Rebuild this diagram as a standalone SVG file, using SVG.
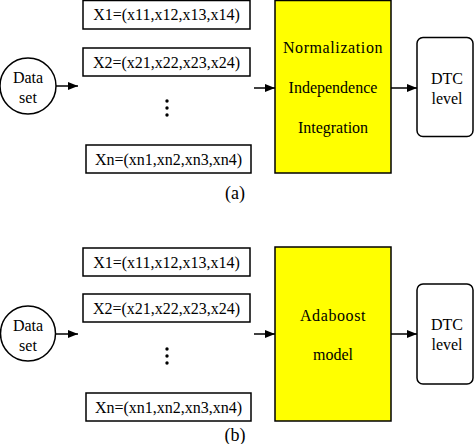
<svg xmlns="http://www.w3.org/2000/svg" width="474" height="444" viewBox="0 0 474 444">
<style>
text{font-family:"Liberation Serif","Times New Roman",serif;font-size:16px;fill:#000;text-anchor:middle}
.box{fill:#fff;stroke:#000;stroke-width:1.5}
.yel{fill:#ffff00;stroke:#000;stroke-width:1.5}
.ln{stroke:#000;stroke-width:1.5;fill:none;marker-end:url(#ah)}
.lbl{font-size:18px}
</style>
<defs>
<marker id="ah" markerWidth="10" markerHeight="8" refX="10" refY="4" orient="auto" markerUnits="userSpaceOnUse">
<path d="M0,0 L10,4 L0,8 Z" fill="#000"/>
</marker>
</defs>
<rect width="474" height="444" fill="#fff"/>
<!-- Panel (a) -->
<g id="a-data"><circle class="box" cx="28" cy="86" r="28"/><text x="28" y="83">Data</text><text x="28" y="103">set</text></g>
<g id="a-x1"><rect class="box" x="83" y="0.5" width="167" height="28.5"/><text x="166.5" y="20">X1=(x11,x12,x13,x14)</text></g>
<g id="a-x2"><rect class="box" x="83" y="48" width="167" height="28"/><text x="166.5" y="67.5">X2=(x21,x22,x23,x24)</text></g>
<g id="a-dots"><circle cx="167" cy="101" r="1.7"/><circle cx="167" cy="108" r="1.7"/><circle cx="167" cy="115" r="1.7"/></g>
<g id="a-xn"><rect class="box" x="86" y="145" width="165" height="28"/><text x="168.5" y="164.5">Xn=(xn1,xn2,xn3,xn4)</text></g>
<g id="a-proc"><rect class="yel" x="275" y="0.5" width="116" height="172.5"/><text x="333" y="53" letter-spacing="0.6">Normalization</text><text x="333" y="93">Independence</text><text x="333" y="133">Integration</text></g>
<g id="a-dtc"><rect class="box" x="417" y="37.5" width="56" height="99" rx="6"/><text x="447" y="84">DTC</text><text x="447" y="104">level</text></g>
<text class="lbl" x="235" y="199">(a)</text>
<!-- Panel (b) -->
<g id="b-data"><circle class="box" cx="28" cy="333.5" r="27.5"/><text x="28" y="331">Data</text><text x="28" y="351">set</text></g>
<g id="b-x1"><rect class="box" x="83" y="248" width="167" height="28"/><text x="166.5" y="267.5">X1=(x11,x12,x13,x14)</text></g>
<g id="b-x2"><rect class="box" x="83" y="294" width="167" height="28"/><text x="166.5" y="313.5">X2=(x21,x22,x23,x24)</text></g>
<g id="b-dots"><circle cx="167" cy="349" r="1.7"/><circle cx="167" cy="356" r="1.7"/><circle cx="167" cy="363" r="1.7"/></g>
<g id="b-xn"><rect class="box" x="86" y="393" width="165" height="28"/><text x="168.5" y="412.5">Xn=(xn1,xn2,xn3,xn4)</text></g>
<g id="b-proc"><rect class="yel" x="275" y="247" width="116" height="174"/><text x="333" y="321" letter-spacing="0.6">Adaboost</text><text x="333" y="360">model</text></g>
<g id="b-dtc"><rect class="box" x="417" y="284" width="56" height="100" rx="6"/><text x="447" y="330">DTC</text><text x="447" y="350">level</text></g>
<text class="lbl" x="235" y="441">(b)</text>
<g id="connectors">
<line class="ln" x1="56" y1="86" x2="78" y2="86"/>
<line class="ln" x1="254" y1="88" x2="275" y2="88"/>
<line class="ln" x1="391" y1="88" x2="417" y2="88"/>
<line class="ln" x1="55.5" y1="334" x2="78" y2="334"/>
<line class="ln" x1="254" y1="334" x2="275" y2="334"/>
<line class="ln" x1="391" y1="334" x2="417" y2="334"/>
</g>
</svg>
